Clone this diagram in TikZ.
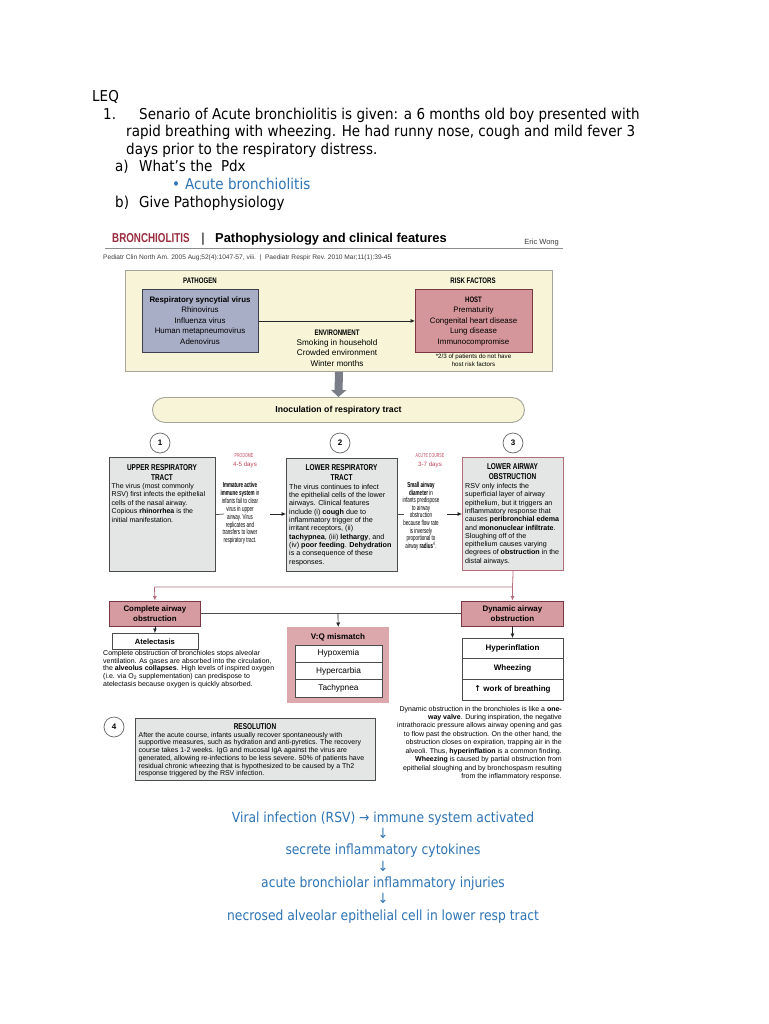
\documentclass[tikz,border=0pt]{standalone}
\usepackage{fontspec}
\setmainfont[FakeStretch=0.9]{DejaVu Sans}
\newfontfamily\bfont[FakeStretch=0.88]{DejaVu Sans}
\newfontfamily\dfont{Liberation Sans}
\newfontfamily\cfont[FakeStretch=0.76]{Liberation Sans}
\newfontfamily\nfont[FakeStretch=0.62]{Liberation Sans}
\newfontfamily\symfont{DejaVu Sans}
\usetikzlibrary{arrows.meta}
\definecolor{blueT}{RGB}{46,116,181}
\definecolor{titleRed}{RGB}{155,45,62}
\definecolor{redLbl}{RGB}{190,70,90}
\definecolor{yelFill}{RGB}{247,244,216}
\definecolor{yelDraw}{RGB}{165,165,155}
\definecolor{pathFill}{RGB}{168,174,198}
\definecolor{pathDraw}{RGB}{60,64,78}
\definecolor{hostFill}{RGB}{213,150,155}
\definecolor{hostDraw}{RGB}{120,55,65}
\definecolor{pinkFill}{RGB}{214,155,160}
\definecolor{vqFill}{RGB}{220,168,172}
\definecolor{pinkLine}{RGB}{180,108,120}
\definecolor{grayFill}{RGB}{228,230,230}
\definecolor{boxDraw}{RGB}{75,75,75}
\definecolor{arrowGray}{RGB}{120,125,135}
\definecolor{txtGray}{RGB}{60,60,60}
\newcommand\plines[7]{%
  \foreach \lineT [count=\k from 0] in {#7}{%
    \node[inner sep=0pt,anchor=#5,font=#6] (#1\k) at (#2,{#3+\k*#4}) {\lineT};}}
\begin{document}
\begin{tikzpicture}[x=1pt,y=-1pt,
  T/.style={inner sep=0pt},
  box/.style={inner sep=0pt,anchor=north west},
  arr/.style={draw=black!85,line width=0.7pt,-{Latex[length=4.5pt,width=4pt]}},
  ln/.style={draw=black!70,line width=0.7pt},
  pk/.style={draw=pinkLine,line width=0.8pt},
  pkarr/.style={pk,-{Latex[length=4.5pt,width=4pt]}},
  num/.style={circle,draw=black!60,fill=white,line width=0.7pt,minimum size=20pt,inner sep=0pt,font=\dfont\bfseries\fontsize{8}{8}\selectfont},
  mt/.style={inner sep=0pt,anchor=base west,font=\fontsize{15}{17}\selectfont},
  bt/.style={inner sep=0pt,anchor=base,text=blueT,font=\bfont\fontsize{14}{17}\selectfont},
]
\useasboundingbox (0,0) rectangle (768,1024);
\fill[white] (0,0) rectangle (768,1024);

% ---------- header text ----------
\node[mt] (leq) at (92,102) {LEQ};
\node[mt] (n1) at (103,119.5) {1.};
\node[mt] (q1) at (139,119.5) {Senario of Acute bronchiolitis is given: a 6 months old boy presented with};
\node[mt] (q2) at (126,137) {rapid breathing with wheezing. He had runny nose, cough and mild fever 3};
\node[mt] (q3) at (126,154.5) {days prior to the respiratory distress.};
\node[mt] (qa) at (115,172) {a)};
\node[mt] (qa2) at (139,172) {What’s the~ Pdx};
\node[mt,text=blueT] (bul) at (172,190) {•};
\node[mt,text=blueT] (ans) at (185,190) {Acute bronchiolitis};
\node[mt] (qb) at (115,208) {b)};
\node[mt] (qb2) at (139,208) {Give Pathophysiology};

% ---------- figure title ----------
\node[T,anchor=base west,text=titleRed,font=\cfont\bfseries\fontsize{12.9}{13}\selectfont] (ttl) at (112,242) {BRONCHIOLITIS};
\node[T,anchor=base,font=\dfont\fontsize{13}{13}\selectfont] (bar) at (203,242) {|};
\node[T,anchor=base west,font=\dfont\bfseries\fontsize{12.9}{13}\selectfont] (sub) at (215,242) {Pathophysiology and clinical features};
\node[T,anchor=base east,text=txtGray,font=\dfont\fontsize{7.5}{8}\selectfont] (auth) at (559,244) {Eric Wong};
\coordinate (rl) at (105,248.5); \coordinate (rr) at (563,248.5);
\draw[draw=black!45,line width=0.6pt] (rl) -- (rr);
\node[T,anchor=base west,text=txtGray,font=\dfont\fontsize{6.6}{7}\selectfont] (cite) at (103,259) {Pediatr Clin North Am. 2005 Aug;52(4):1047-57, viii.\ \ |\ \ Paediatr Respir Rev. 2010 Mar;11(1):39-45};

% ---------- pathogen / risk factors ----------
\node[box,draw=yelDraw,fill=yelFill,line width=0.9pt,minimum width=427pt,minimum height=101pt] (env) at (125,270) {};
\node[T,anchor=base,font=\cfont\bfseries\fontsize{8}{8}\selectfont] (pathh) at (200,283) {PATHOGEN};
\node[T,anchor=base,font=\cfont\bfseries\fontsize{8}{8}\selectfont] (riskh) at (473,283) {RISK FACTORS};
\node[box,draw=pathDraw,fill=pathFill,line width=0.9pt,minimum width=116pt,minimum height=63pt] (pat) at (142,289) {};
\plines{patl}{200}{302}{10.5}{base}{\dfont\fontsize{7.9}{8}\selectfont}{{\textbf{Respiratory syncytial virus}},{Rhinovirus},{Influenza virus},{Human metapneumovirus},{Adenovirus}}
\node[box,draw=hostDraw,fill=hostFill,line width=0.9pt,minimum width=117pt,minimum height=63pt] (host) at (415,289) {};
\plines{hostl}{473.5}{302}{10.5}{base}{\dfont\fontsize{7.9}{8}\selectfont}{{\cfont\bfseries HOST},{Prematurity},{Congenital heart disease},{Lung disease},{Immunocompromise}}
\draw[arr] (pat.east) -- (host.west);
\node[T,anchor=base,font=\cfont\bfseries\fontsize{8}{8}\selectfont] (envh) at (337,335) {ENVIRONMENT};
\plines{envl}{337}{345}{10.5}{base}{\dfont\fontsize{8.2}{8}\selectfont}{{Smoking in household},{Crowded environment},{Winter months}}
\plines{note}{473.5}{358.5}{7.8}{base}{\dfont\fontsize{6.2}{7}\selectfont}{{*2/3 of patients do not have},{host risk factors}}

% ---------- inoculation ----------
\node[box,draw=yelDraw,fill=yelFill,line width=0.9pt,rounded corners=12.5pt,minimum width=372pt,minimum height=25pt,font=\dfont\bfseries\fontsize{8.7}{9}\selectfont] (inoc) at (152,397) {Inoculation of respiratory tract};
\draw[draw=arrowGray,line width=8pt,-{Triangle[length=7pt,width=15pt]}] (env.south) -- (inoc.north);

% ---------- stage circles and boxes ----------
\node[num] (c1) at (160,443) {1};
\node[num] (c2) at (340,443) {2};
\node[num] (c3) at (513,443) {3};

\node[box,draw=boxDraw,fill=grayFill,line width=1.2pt,minimum width=106pt,minimum height=114pt] (b1) at (109,457) {};
\node[box,draw=boxDraw,fill=grayFill,line width=1.2pt,minimum width=111pt,minimum height=113pt] (b2) at (286,458) {};
\node[box,draw=pinkLine,fill=grayFill,line width=1.2pt,minimum width=101pt,minimum height=113pt] (b3) at (462,457) {};

\plines{b1h}{162}{470}{10.3}{base}{\cfont\bfseries\fontsize{8.5}{9}\selectfont}{{UPPER RESPIRATORY},{TRACT}}
\plines{b2h}{341.5}{470}{10.3}{base}{\cfont\bfseries\fontsize{8.5}{9}\selectfont}{{LOWER RESPIRATORY},{TRACT}}
\plines{b3h}{512.5}{469}{10.3}{base}{\cfont\bfseries\fontsize{8.5}{9}\selectfont}{{LOWER AIRWAY},{OBSTRUCTION}}

\plines{b1t}{111.5}{488.5}{8.4}{base west}{\dfont\fontsize{7}{8}\selectfont}{{The virus (most commonly},{RSV) first infects the epithelial},{cells of the nasal airway.},{Copious \textbf{rhinorrhea} is the},{initial manifestation.}}
\plines{b2t}{289}{489}{8.35}{base west}{\dfont\fontsize{7.2}{8}\selectfont}{{The virus continues to infect},{the epithelial cells of the lower},{airways. Clinical features},{include (i) \textbf{cough} due to},{inflammatory trigger of the},{irritant receptors, (ii)},{\textbf{tachypnea}, (iii) \textbf{lethargy}, and},{(iv) \textbf{poor feeding}. \textbf{Dehydration}},{is a consequence of these},{responses.}}
\plines{b3t}{465}{488.5}{8.3}{base west}{\dfont\fontsize{7.1}{8}\selectfont}{{RSV only infects the},{superficial layer of airway},{epithelium, but it triggers an},{inflammatory response that},{causes \textbf{peribronchial edema}},{and \textbf{mononuclear infiltrate}.},{Sloughing off of the},{epithelium causes varying},{degrees of \textbf{obstruction} in the},{distal airways.}}

% between boxes
\node[T,anchor=base,text=redLbl,font=\nfont\fontsize{5.8}{6}\selectfont] (pro) at (244,457.5) {PRODOME};
\node[T,anchor=base,text=redLbl,font=\dfont\fontsize{6.2}{6}\selectfont] (prod) at (245,466) {4-5 days};
\plines{m1t}{240}{487.5}{7.9}{base}{\nfont\fontsize{7.3}{7}\selectfont}{{\textbf{Immature active}},{\textbf{immune system} in},{infants fail to clear},{virus in upper},{airway. Virus},{replicates and},{transfers to lower},{respiratory tract.}}
\node[T,anchor=base,text=redLbl,font=\nfont\fontsize{5.8}{6}\selectfont] (acu) at (430,457.5) {ACUTE COURSE};
\node[T,anchor=base,text=redLbl,font=\dfont\fontsize{6.2}{6}\selectfont] (acud) at (430,466) {3-7 days};
\plines{m2t}{421}{487.5}{7.6}{base}{\nfont\fontsize{7.3}{7}\selectfont}{{\textbf{Small airway}},{\textbf{diameter} in},{infants predispose},{to airway},{obstruction},{because flow rate},{is inversely},{proportional to},{airway \textbf{radius}\textsuperscript{4}.}}

\coordinate (m1a) at (224,514); \coordinate (m1b) at (270,514);
\draw[ln] (b1.east) -- (m1a);
\draw[arr] (m1b) -- (m1b -| b2.west);
\coordinate (m2a) at (404,514); \coordinate (m2b) at (447,514);
\draw[ln] (m2a -| b2.east) -- (m2a);
\draw[arr] (m2b) -- (m2b -| b3.west);

% ---------- obstruction branches ----------
\node[box,draw=hostDraw,fill=pinkFill,line width=0.8pt,minimum width=91pt,minimum height=25pt,align=center,font=\dfont\bfseries\fontsize{7.9}{10}\selectfont] (cab) at (109,600.5) {Complete airway\\obstruction};
\node[box,draw=hostDraw,fill=pinkFill,line width=0.8pt,minimum width=102pt,minimum height=25pt,align=center,font=\dfont\bfseries\fontsize{7.9}{10}\selectfont] (dab) at (461,600.5) {Dynamic airway\\obstruction};
\coordinate (jr) at (512.5,587); \coordinate (jl) at (154.5,587);
\draw[pk] (b3.south) -- (jr) -- (jl);
\draw[pkarr] (jl) -- (cab.north);
\draw[pkarr] (jr) -- (dab.north -| jr);
\draw[ln] (cab.east) -- (dab.west);
\coordinate (vqj) at (338,613);

\node[box,fill=vqFill,minimum width=102pt,minimum height=76pt] (vq) at (287,627) {};
\draw[arr] (vqj) -- (vq.north);
\node[T,anchor=base,font=\dfont\bfseries\fontsize{8.1}{9}\selectfont] (vqt) at (338,639) {V:Q mismatch};
\node[box,draw=boxDraw,fill=white,line width=0.8pt,minimum width=87pt,minimum height=52pt] (vqtab) at (295,645) {};
\draw[draw=boxDraw,line width=0.6pt] (295,662.3) -- (382,662.3) (295,679.6) -- (382,679.6);
\node[T,font=\dfont\fontsize{8.3}{9}\selectfont] (vq1) at (338.5,653.7) {Hypoxemia};
\node[T,font=\dfont\fontsize{8.3}{9}\selectfont] (vq2) at (338.5,671) {Hypercarbia};
\node[T,font=\dfont\fontsize{8.3}{9}\selectfont] (vq3) at (338.5,688.3) {Tachypnea};

\node[box,draw=boxDraw,fill=white,line width=0.8pt,minimum width=86pt,minimum height=16pt,font=\dfont\bfseries\fontsize{7.6}{8}\selectfont] (atel) at (111.5,633) {Atelectasis};
\draw[arr] (cab.south) -- (atel.north);
\plines{atl}{103}{655.5}{7.7}{base west}{\dfont\fontsize{7}{8}\selectfont}{{Complete obstruction of bronchioles stops alveolar},{ventilation. As gases are absorbed into the circulation,},{the \textbf{alveolus collapses}. High levels of inspired oxygen},{(i.e. via O\textsubscript{2} supplementation) can predispose to},{atelectasis because oxygen is quickly absorbed.}}

\node[box,draw=boxDraw,fill=white,line width=0.8pt,minimum width=101pt,minimum height=62pt] (dtab) at (462,638) {};
\draw[arr] (dab.south -| jr) -- (dtab.north -| jr);
\draw[draw=boxDraw,line width=0.6pt] (462,658.5) -- (563,658.5) (462,679) -- (563,679);
\node[T,font=\dfont\bfseries\fontsize{8}{9}\selectfont] (dt1) at (512.5,648.3) {Hyperinflation};
\node[T,font=\dfont\bfseries\fontsize{8}{9}\selectfont] (dt2) at (512.5,668.8) {Wheezing};
\node[T,font=\dfont\bfseries\fontsize{8}{9}\selectfont] (dt3) at (512.5,689.5) {{\symfont\bfseries ↑} work of breathing};
\plines{dyl}{562}{711}{8.45}{base east}{\dfont\fontsize{7}{8}\selectfont}{{Dynamic obstruction in the bronchioles is like a \textbf{one-}},{\textbf{way valve}. During inspiration, the negative},{intrathoracic pressure allows airway opening and gas},{to flow past the obstruction. On the other hand, the},{obstruction closes on expiration, trapping air in the},{alveoli. Thus, \textbf{hyperinflation} is a common finding.},{\textbf{Wheezing} is caused by partial obstruction from},{epithelial sloughing and by bronchospasm resulting},{from the inflammatory response.}}

% ---------- resolution ----------
\node[num] (c4) at (114,727) {4};
\node[box,draw=boxDraw,fill=grayFill,line width=1.2pt,minimum width=240pt,minimum height=62pt] (res) at (135,718) {};
\node[T,anchor=base,font=\cfont\bfseries\fontsize{8.5}{9}\selectfont] (rest) at (255,729.5) {RESOLUTION};
\plines{resl}{138.5}{737}{7.75}{base west}{\dfont\fontsize{7}{8}\selectfont}{{After the acute course, infants usually recover spontaneously with},{supportive measures, such as hydration and anti-pyretics. The recovery},{course takes 1-2 weeks. IgG and mucosal IgA against the virus are},{generated, allowing re-infections to be less severe. 50\% of patients have},{residual chronic wheezing that is hypothesized to be caused by a Th2},{response triggered by the RSV infection.}}

% ---------- blue summary ----------
\node[bt] (s1) at (383,822) {Viral infection (RSV) → immune system activated};
\node[bt] (a1) at (383,838) {↓};
\node[bt] (s2) at (383,854) {secrete inflammatory cytokines};
\node[bt] (a2) at (383,871) {↓};
\node[bt] (s3) at (383,887) {acute bronchiolar inflammatory injuries};
\node[bt] (a3) at (383,903) {↓};
\node[bt] (s4) at (383,920) {necrosed alveolar epithelial cell in lower resp tract};
\end{tikzpicture}
\end{document}
